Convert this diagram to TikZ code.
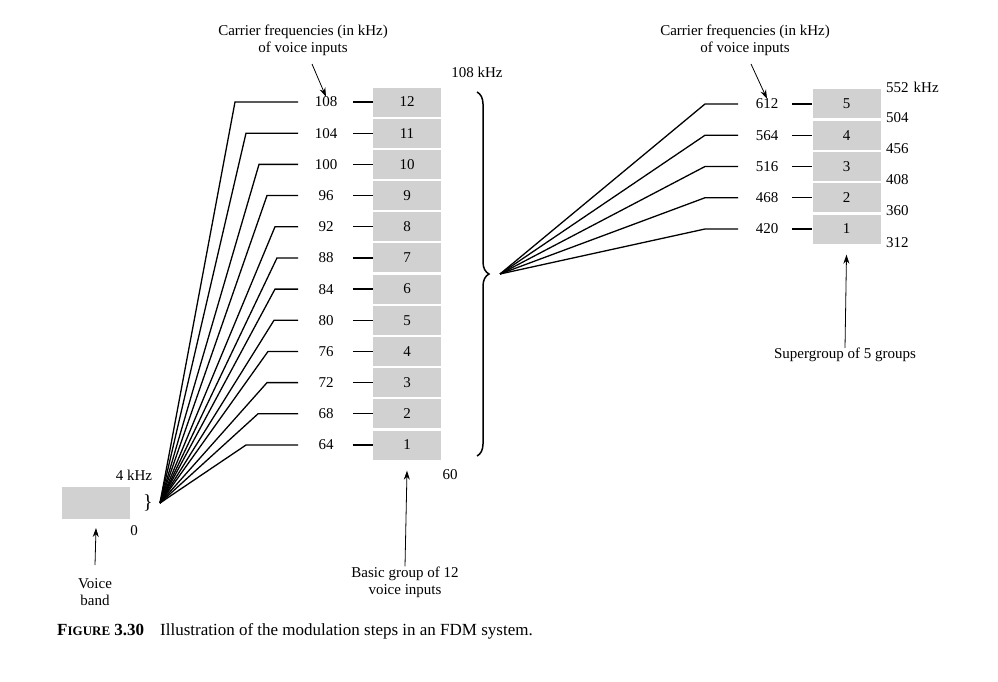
\documentclass[tikz,border=0pt]{standalone}
\usepackage{fontspec}
\setmainfont{Liberation Serif}
\usetikzlibrary{decorations.pathreplacing,arrows.meta}
\begin{document}
\begin{tikzpicture}[x=1pt,y=-1pt,
  lbl/.style={font=\fontsize{15}{17}\selectfont,inner sep=0pt},
  gbox/.style={fill=black!18,minimum width=68pt,minimum height=29pt,inner sep=0pt,font=\fontsize{15}{17}\selectfont},
  ln/.style={line width=1.3pt},
  arr/.style={line width=0.8pt,-{Stealth[length=9pt,width=6pt]}}]
\useasboundingbox (0,0) rectangle (998,682);
% left group
\coordinate (F1) at (160,503);
\foreach \i/\b in {12/235,11/246,10/259,9/267,8/275,7/277,6/275,5/274,4/268,3/267,2/258,1/246}{
  \pgfmathsetmacro{\yy}{445-(\i-1)*31.18}
  \pgfmathtruncatemacro{\fr}{60+4*\i}
  \node[gbox] (g\i) at (407,\yy) {\i};
  \node[lbl] (n\i) at (326,\yy) {\fr};
  \coordinate (b\i) at (\b,\yy);
  \coordinate (e\i) at (298,\yy);
  \draw[ln] (F1) -- (b\i) -- (e\i);
  \draw[ln] ([xshift=-20pt]g\i.west) -- (g\i.west);
}
\node[fill=black!18,minimum width=68pt,minimum height=32pt,inner sep=0pt] (vb) at (96,503) {};
\node[lbl] (k4) at (134,475) {4 kHz};
\node[lbl] (z0) at (134,531) {0};
\node[lbl] (br) at (148,503) {\fontsize{20}{20}\selectfont\}};
\node[lbl,align=center] (vbt) at (95,592) {Voice\\band};
\draw[arr] (vbt.north) ++(0,-2) coordinate (vs) (95,565) -- (vb.south|-0,528);
\node[lbl,align=center] (ct1) at (303,40) {Carrier frequencies (in kHz)\\of voice inputs};
\draw[arr] (312,64) -- (n12.north);
\node[lbl] (k108) at (477,72) {108 kHz};
\node[lbl] (k60) at (450,475) {60};
\node[lbl,align=center] (bg) at (405,582) {Basic group of 12\\voice inputs};
\draw[arr] (bg.north) -- ([yshift=-11pt]g1.south);
\draw[line width=1.5pt,decorate,decoration={brace,amplitude=12pt}] (477,92) -- (477,456);
\coordinate (F2) at (500,274);
% right group
\foreach \i/\fr in {5/612,4/564,3/516,2/468,1/420}{
  \pgfmathsetmacro{\yy}{229-(\i-1)*31.25}
  \node[gbox] (s\i) at (846.5,\yy) {\i};
  \node[lbl] (m\i) at (767,\yy) {\fr};
  \coordinate (c\i) at (705,\yy);
  \coordinate (d\i) at (738,\yy);
  \draw[ln] (F2) -- (c\i) -- (d\i);
  \draw[ln] ([xshift=-20pt]s\i.west) -- (s\i.west);
}
\node[lbl,anchor=west] (t552) at (886,87) {552\,\,kHz};
\foreach \v/\yy in {504/118,456/149,408/180,360/211,312/243}{
  \node[lbl,anchor=west] (t\v) at (886,\yy) {\v};
}
\node[lbl,align=center] (ct2) at (745,40) {Carrier frequencies (in kHz)\\of voice inputs};
\draw[arr] (751,64) -- (m5.north);
\node[lbl] (sg) at (845,355) {Supergroup of 5 groups};
\draw[arr] (sg.north) -- ([yshift=-11pt]s1.south);
\node[anchor=west,inner sep=0pt,font=\fontsize{17}{19}\selectfont] (cap) at (57,631) {\textbf{F\fontsize{13}{15}\selectfont IGURE\fontsize{17}{19}\selectfont\ 3.30}\hspace{16pt}Illustration of the modulation steps in an FDM system.};
\end{tikzpicture}
\end{document}
